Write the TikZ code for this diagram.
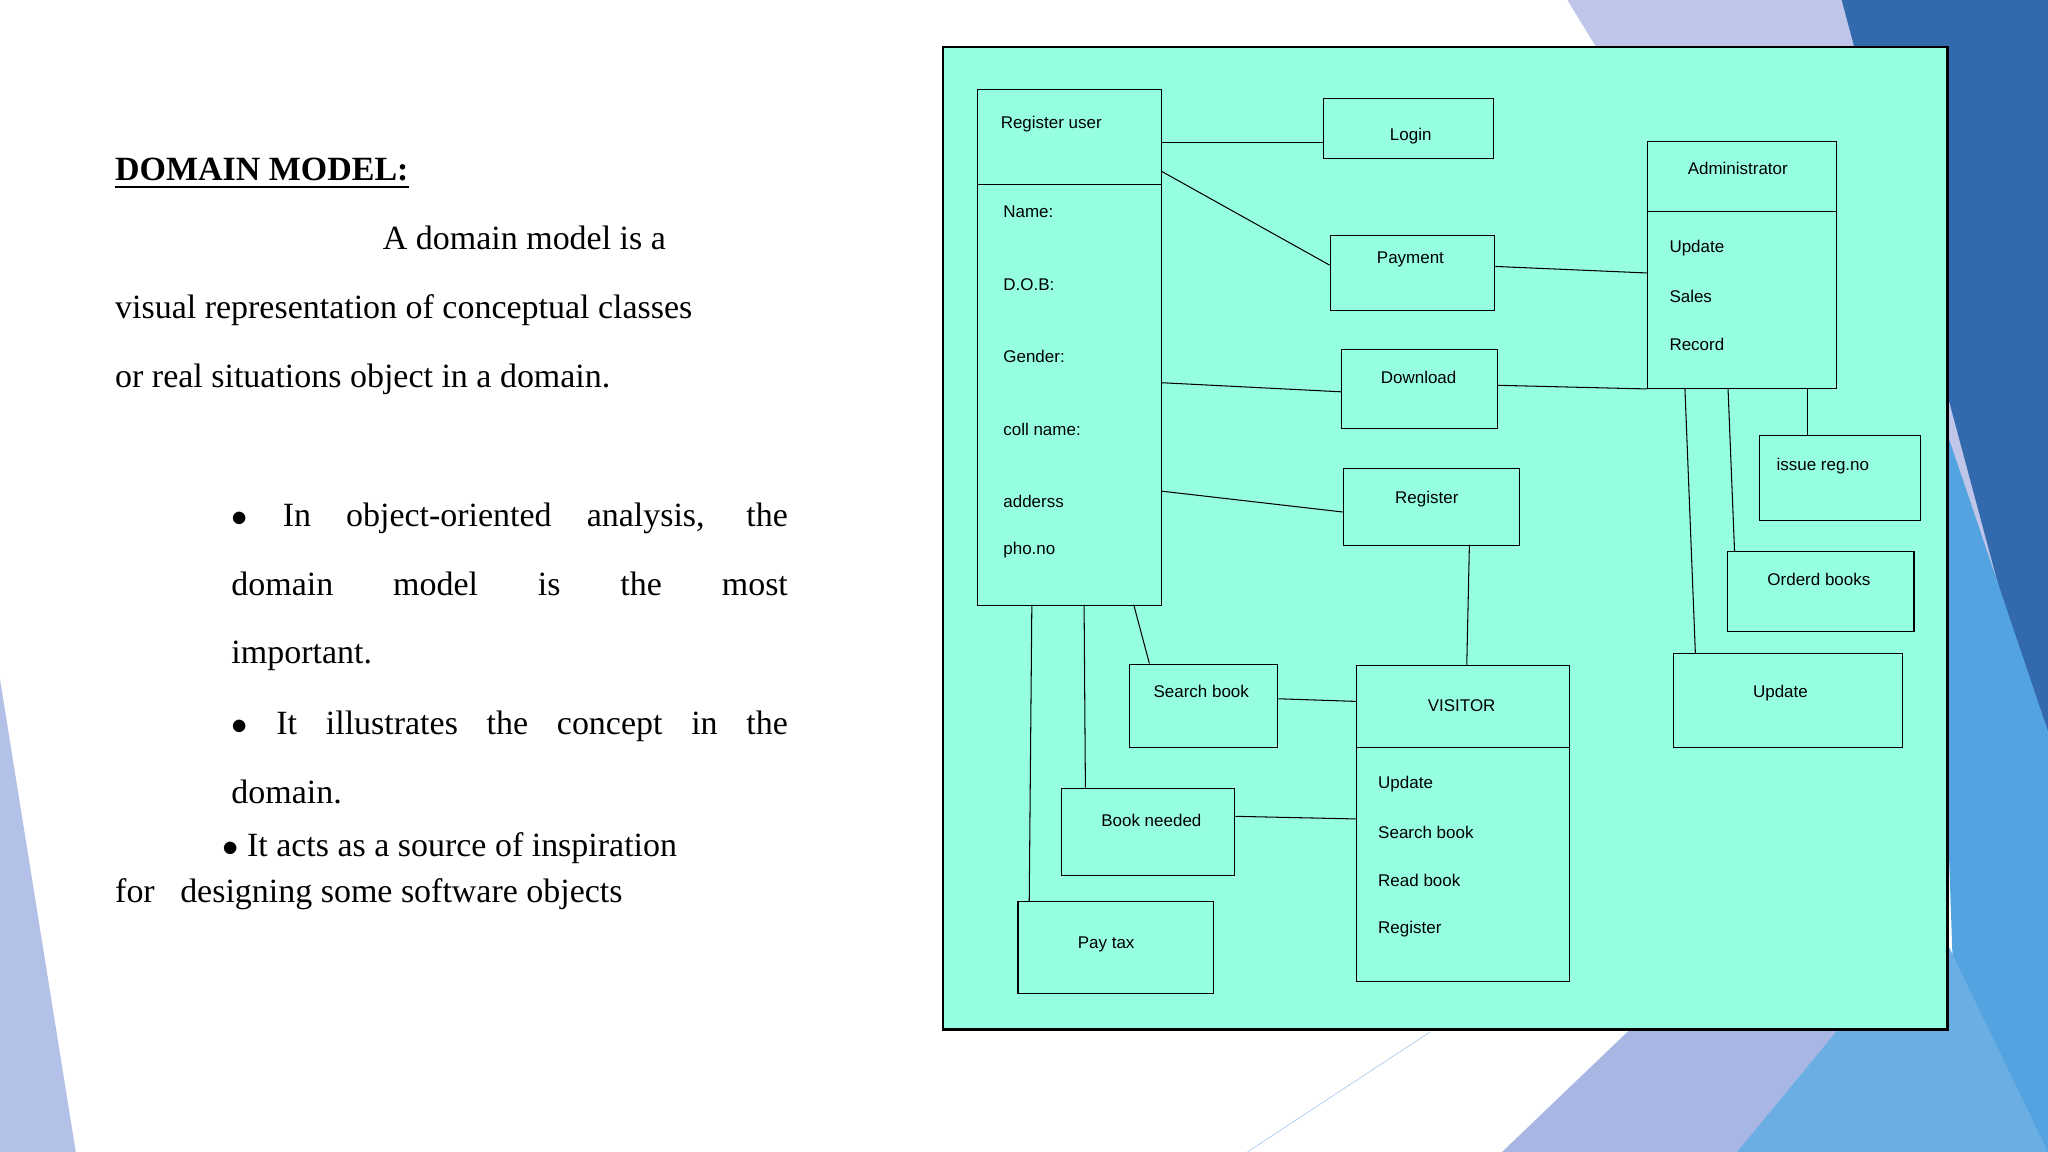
\documentclass[tikz,border=0pt]{standalone}
\usepackage{fontspec}
\usetikzlibrary{calc}
\setmainfont{Liberation Serif}
\newfontfamily\diag{Liberation Sans}
\begin{document}
\begin{tikzpicture}[x=1pt,y=-1pt,
 box/.style={draw,thick,anchor=north west,inner sep=0pt},
 lbl/.style={font=\diag\fontsize{13}{15}\selectfont,anchor=west,inner sep=0pt},
 txt/.style={font=\fontsize{26}{30}\selectfont,anchor=base west,inner sep=0pt},
 ln/.style={thick}]
\useasboundingbox (0,0) rectangle (1568,882);
\fill[white] (0,0) rectangle (1568,882);
% background decoration
\fill[cyan!35!blue!25] (1200,0) -- (1410,0) -- (1568,470) -- (1568,600) -- cycle;
\fill[blue!55!cyan!60!black!80] (1410,0) -- (1568,0) -- (1568,590) -- cycle;
\fill[cyan!70!blue!70] (1480,300) -- (1568,560) -- (1568,882) -- (1500,882) -- cycle;
\fill[cyan!40!blue!35] (1150,882) -- (1340,700) -- (1500,882) -- cycle;
\fill[cyan!70!blue!60] (1330,882) -- (1480,700) -- (1568,882) -- cycle;
\draw[cyan!60!blue!40] (955,882) -- (1095,790);
\fill[cyan!40!blue!30] (0,520) -- (58,882) -- (0,882) -- cycle;
% left text
\node[txt,font=\bfseries\fontsize{26}{30}\selectfont] (h) at (88,138) {DOMAIN MODEL:};
\draw[line width=1.5pt] ($(h.base west)+(0,5)$) -- ($(h.base east)+(0,5)$);
\node[txt] (t1) at (293,191) {A domain model is a};
\node[txt] (t2) at (88,244) {visual representation of conceptual classes};
\node[txt] (t3) at (88,297) {or real situations object in a domain.};
\node[txt] (b1) at (177,403) {\makebox[426pt][s]{$\bullet$ In object-oriented analysis, the}};
\node[txt] (b2) at (177,456) {\makebox[426pt][s]{domain model is the most}};
\node[txt] (b3) at (177,508) {important.};
\node[txt] (b4) at (177,562) {\makebox[426pt][s]{$\bullet$ It illustrates the concept in the}};
\node[txt] (b5) at (177,615) {domain.};
\node[txt] (b6) at (170,656) {$\bullet$ It acts as a source of inspiration};
\node[txt] (b7) at (88,691) {for \ \ designing some software objects};
% diagram frame
\draw[line width=2pt,fill={rgb,255:red,150;green,255;blue,226}] (722,36) rectangle (1491,788);
% boxes
\node[box,minimum width=141,minimum height=395] (ru) at (748,68) {};
\draw[ln] (748,141) -- (889,141);
\node[lbl] at (766,95) {Register user};
\foreach \t/\y in {Name:/162,D.O.B:/218,Gender:/273,coll name:/329,adderss/384,pho.no/421}
 \node[lbl] at (768,\y) {\t};
\node[box,minimum width=130,minimum height=46] (lg) at (1013,75) {};
\node[lbl] at (1064,104) {Login};
\node[box,minimum width=126,minimum height=57] (pm) at (1018,180) {};
\node[lbl] at (1054,199) {Payment};
\node[box,minimum width=119,minimum height=61] (dl) at (1027,267) {};
\node[lbl] at (1057,289) {Download};
\node[box,minimum width=135,minimum height=59] (rg) at (1028,358) {};
\node[lbl] at (1068,382) {Register};
\node[box,minimum width=145,minimum height=189] (ad) at (1261,108) {};
\draw[ln] (1261,162) -- (1406,162);
\node[lbl] at (1292,129) {Administrator};
\foreach \t/\y in {Update/190,Sales/227,Record/264}
 \node[lbl] at (1278,\y) {\t};
\node[box,minimum width=123,minimum height=65] (ir) at (1347,333) {};
\node[lbl] at (1360,357) {issue reg.no};
\node[box,minimum width=143,minimum height=61] (ob) at (1322,422) {};
\node[lbl] at (1353,444) {Orderd books};
\node[box,minimum width=175,minimum height=72] (up) at (1281,500) {};
\node[lbl] at (1342,531) {Update};
\node[box,minimum width=114,minimum height=64] (sb) at (864,508) {};
\node[lbl] at (883,529) {Search book};
\node[box,minimum width=163,minimum height=242] (vi) at (1038,509) {};
\draw[ln] (1038,572) -- (1201,572);
\node[lbl] at (1093,540) {VISITOR};
\foreach \t/\y in {Update/600,Search book/637,Read book/674,Register/711}
 \node[lbl] at (1055,\y) {\t};
\node[box,minimum width=133,minimum height=67] (bn) at (812,603) {};
\node[lbl] at (843,628) {Book needed};
\node[box,minimum width=150,minimum height=70] (pt) at (779,690) {};
\node[lbl] at (825,723) {Pay tax};
% connectors
\draw[ln] (ru.east |- 0,109) -- (lg.west |- 0,109);
\draw[ln] (889,131) -- (pm.west |- 0,203);
\draw[ln] (pm.east |- 0,204) -- (ad.west |- 0,209);
\draw[ln] (889,293) -- (dl.west |- 0,300);
\draw[ln] (dl.east |- 0,295) -- (ad.south west);
\draw[ln] (889,376) -- (rg.west |- 0,392);
\draw[ln] (1125,417) -- (1123,509);
\draw[ln] (868,463) -- (880,508);
\draw[ln] (sb.east |- 0,535) -- (vi.west |- 0,537);
\draw[ln] (830,463) -- (831,603);
\draw[ln] (bn.east |- 0,625) -- (vi.west |- 0,627);
\draw[ln] (790,463) -- (788,690);
\draw[ln] (1384,297) -- (1384,333);
\draw[ln] (1323,297) -- (1328,422);
\draw[ln] (1290,297) -- (1298,500);
\end{tikzpicture}
\end{document}
